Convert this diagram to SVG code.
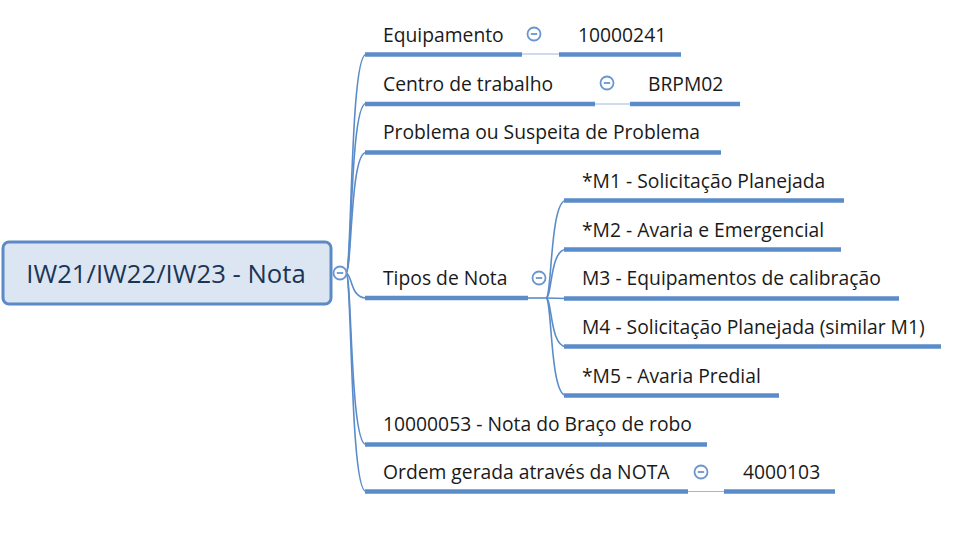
<svg xmlns="http://www.w3.org/2000/svg" width="957" height="538" viewBox="0 0 957 538">
<defs>
<style>
.t{font-family:"Open Sans","Noto Sans",sans-serif;font-size:19.3px;fill:#1a1a1a}
.ul{stroke:#5b8cca;stroke-width:4.5;fill:none}
.br{stroke:#5b8cca;stroke-width:1.6;fill:none}
.thin{stroke:#9bb8e0;stroke-width:1.2;fill:none}
.col circle{fill:#fff;stroke:#6a95cf;stroke-width:1.8}
.col line{stroke:#6a95cf;stroke-width:1.8}
</style>
<g id="collapse" class="col"><circle cx="0" cy="0" r="6.5"/><line x1="-3.2" y1="0" x2="3.2" y2="0"/></g>
</defs>
<rect width="957" height="538" fill="#fff"/>
<g id="connectors">
<path class="br" d="M346,273 C352,273 350,54.5 366,54.5"/>
<path class="br" d="M346,273 C352,273 350,103.5 366,103.5"/>
<path class="br" d="M346,273 C352,273 350,152.5 366,152.5"/>
<path class="br" d="M346,273 C352,273 350,298 366,298"/>
<path class="br" d="M346,273 C352,273 350,444.5 366,444.5"/>
<path class="br" d="M346,273 C352,273 350,491.5 366,491.5"/>
<path class="br" d="M528,298 L546,298"/>
<path class="br" d="M546,298 C552,298 550,200.5 566,200.5"/>
<path class="br" d="M546,298 C552,298 550,249.5 566,249.5"/>
<path class="br" d="M546,298 L566,298.5"/>
<path class="br" d="M546,298 C552,298 550,346.5 566,346.5"/>
<path class="br" d="M546,298 C552,298 550,395.5 566,395.5"/>
<path class="thin" d="M522,54 L559,54"/>
<path class="thin" d="M595,104 L630,104"/>
<path class="thin" d="M688,491.5 L724,491.5"/>
</g>
<g id="root">
<rect x="3" y="242" width="328" height="62" rx="6" fill="#dce6f2" stroke="#5b8ac6" stroke-width="3"/>
<text x="166" y="283" text-anchor="middle" font-family="'Open Sans','Noto Sans',sans-serif" font-size="25.7" fill="#1b3556">IW21/IW22/IW23 - Nota</text>
<use href="#collapse" x="340" y="273"/>
</g>
<g id="n-equipamento">
<line class="ul" x1="365" y1="54.5" x2="522" y2="54.5"/>
<text class="t" x="383" y="42">Equipamento</text>
<use href="#collapse" x="534" y="34"/>
</g>
<g id="n-10000241">
<line class="ul" x1="559" y1="54.5" x2="681" y2="54.5"/>
<text class="t" x="578" y="42">10000241</text>
</g>
<g id="n-centro">
<line class="ul" x1="365" y1="104" x2="595" y2="104"/>
<text class="t" x="383" y="91">Centro de trabalho</text>
<use href="#collapse" x="607" y="83"/>
</g>
<g id="n-brpm02">
<line class="ul" x1="630" y1="104" x2="740" y2="104"/>
<text class="t" x="648" y="91">BRPM02</text>
</g>
<g id="n-problema">
<line class="ul" x1="365" y1="152.5" x2="721" y2="152.5"/>
<text class="t" x="383" y="139">Problema ou Suspeita de Problema</text>
</g>
<g id="n-tipos">
<line class="ul" x1="365" y1="298" x2="528" y2="298"/>
<text class="t" x="383" y="285">Tipos de Nota</text>
<use href="#collapse" x="539" y="278"/>
</g>
<g id="n-m1">
<line class="ul" x1="564" y1="200.5" x2="844" y2="200.5"/>
<text class="t" x="582" y="188">*M1 - Solicitação Planejada</text>
</g>
<g id="n-m2">
<line class="ul" x1="564" y1="249.5" x2="841" y2="249.5"/>
<text class="t" x="582" y="237">*M2 - Avaria e Emergencial</text>
</g>
<g id="n-m3">
<line class="ul" x1="564" y1="298.5" x2="899" y2="298.5"/>
<text class="t" x="582" y="285">M3 - Equipamentos de calibração</text>
</g>
<g id="n-m4">
<line class="ul" x1="564" y1="346.5" x2="941" y2="346.5"/>
<text class="t" x="582" y="334">M4 - Solicitação Planejada (similar M1)</text>
</g>
<g id="n-m5">
<line class="ul" x1="564" y1="395.5" x2="779" y2="395.5"/>
<text class="t" x="582" y="383">*M5 - Avaria Predial</text>
</g>
<g id="n-10000053">
<line class="ul" x1="365" y1="444.5" x2="707" y2="444.5"/>
<text class="t" x="383" y="431">10000053 - Nota do Braço de robo</text>
</g>
<g id="n-ordem">
<line class="ul" x1="365" y1="491.5" x2="688" y2="491.5"/>
<text class="t" x="383" y="479">Ordem gerada através da NOTA</text>
<use href="#collapse" x="701" y="472"/>
</g>
<g id="n-4000103">
<line class="ul" x1="724" y1="491.5" x2="835" y2="491.5"/>
<text class="t" x="743" y="479">4000103</text>
</g>
</svg>
